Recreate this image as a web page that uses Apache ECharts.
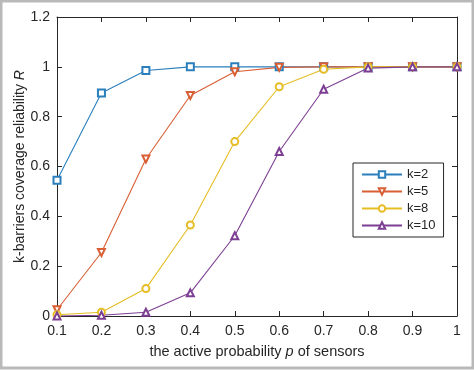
<!DOCTYPE html>
<html>
<head>
<meta charset="utf-8">
<script src="https://cdn.jsdelivr.net/npm/echarts@6/dist/echarts.min.js"></script>
<style>
html,body{margin:0;padding:0;background:#fff;}
#c{width:474px;height:370px;}
</style>
</head>
<body>
<div id="c"></div>
<script>
var pValues = [0.1, 0.2, 0.3, 0.4, 0.5, 0.6, 0.7, 0.8, 0.9, 1.0];
var k2  = [0.545, 0.895, 0.985, 1.0, 1.0, 1.0, 1.0, 1.0, 1.0, 1.0];
var k5  = [0.025, 0.255, 0.630, 0.885, 0.980, 0.998, 1.0, 1.0, 1.0, 1.0];
var k8  = [0.005, 0.015, 0.110, 0.365, 0.700, 0.920, 0.990, 1.0, 1.0, 1.0];
var k10 = [0.0, 0.003, 0.015, 0.093, 0.322, 0.660, 0.910, 0.995, 1.0, 1.0];
var seriesNames = ['k=2', 'k=5', 'k=8', 'k=10'];
var yTicks = {min: 0, max: 1.2, interval: 0.2};
var xTicks = {min: 0.1, max: 1.0, interval: 0.1};

var colors = ['#2b7fbc', '#d95f35', '#e6bd25', '#7d3f93'];
var symbols = ['emptyRect', 'emptyTriangle', 'emptyCircle', 'emptyTriangle'];
var rotates = [0, 180, 0, 0];
var allData = [k2, k5, k8, k10];

function pairs(arr){ return pValues.map(function(p,i){ return [p, arr[i]]; }); }

var font = 'Liberation Sans, Arial, sans-serif';
var axisCol = '#262626';

function xAx(pos, show){
  return {
    type: 'value', position: pos, min: xTicks.min, max: xTicks.max, interval: xTicks.interval,
    axisLine: {show: true, onZero: false, lineStyle: {color: axisCol, width: 1}},
    axisTick: {show: true, inside: true, length: 5, lineStyle: {color: axisCol}},
    axisLabel: {show: show, color: axisCol, fontSize: 14, fontFamily: font, margin: 8,
      formatter: function(v){ return String(Math.round(v*10)/10); }},
    splitLine: {show: false}
  };
}
function yAx(pos, show){
  return {
    type: 'value', position: pos, min: yTicks.min, max: yTicks.max, interval: yTicks.interval,
    axisLine: {show: true, onZero: false, lineStyle: {color: axisCol, width: 1}},
    axisTick: {show: true, inside: true, length: 5, lineStyle: {color: axisCol}},
    axisLabel: {show: show, color: axisCol, fontSize: 14, fontFamily: font, margin: 7,
      formatter: function(v){ return String(Math.round(v*10)/10); }},
    splitLine: {show: false}
  };
}

var xa = xAx('bottom', true);
xa.name = '{n|the active probability }{i|p}{n| of sensors}';
xa.nameLocation = 'middle';
xa.nameGap = 28;
xa.nameMoveOverlap = false;
xa.nameTextStyle = {rich: {n: {fontSize: 14.5, fontFamily: font, color: axisCol}, i: {fontSize: 14.5, fontFamily: font, color: axisCol, fontStyle: 'italic'}}};
var ya = yAx('left', true);
ya.name = '{n|k-barriers coverage reliability }{i|R}';
ya.nameLocation = 'middle';
ya.nameGap = 30;
ya.nameMoveOverlap = false;
ya.nameTextStyle = {rich: {n: {fontSize: 14, fontFamily: font, color: axisCol}, i: {fontSize: 14, fontFamily: font, color: axisCol, fontStyle: 'italic'}}};

var chart = echarts.init(document.getElementById('c'));
chart.setOption({
  animation: false,
  backgroundColor: '#fff',
  grid: {left: 57, right: 17, top: 17, bottom: 54, outerBoundsMode: 'none', containLabel: false},
  xAxis: [xa, xAx('top', false)],
  yAxis: [ya, yAx('right', false)],
  legend: {
    orient: 'vertical', left: 353, top: 163,
    data: seriesNames,
    itemWidth: 40, itemHeight: 8, itemGap: 4,
    padding: [5, 8, 5, 8],
    borderColor: '#262626', borderWidth: 1, backgroundColor: '#fff',
    textStyle: {fontSize: 13, fontFamily: font, color: axisCol}
  },
  graphic: [{type: 'rect', shape: {x: 1, y: 1, width: 472, height: 367}, style: {fill: 'none', stroke: '#b9b9b9', lineWidth: 3}, z: 100}],
  series: allData.map(function(d, i){
    return {
      name: seriesNames[i], type: 'line', data: pairs(d),
      symbol: symbols[i], symbolRotate: rotates[i], symbolSize: 7,
      lineStyle: {color: colors[i], width: 1.1},
      itemStyle: {color: colors[i], borderWidth: 1.1},
      showAllSymbol: true
    };
  })
});
</script>
</body>
</html>
